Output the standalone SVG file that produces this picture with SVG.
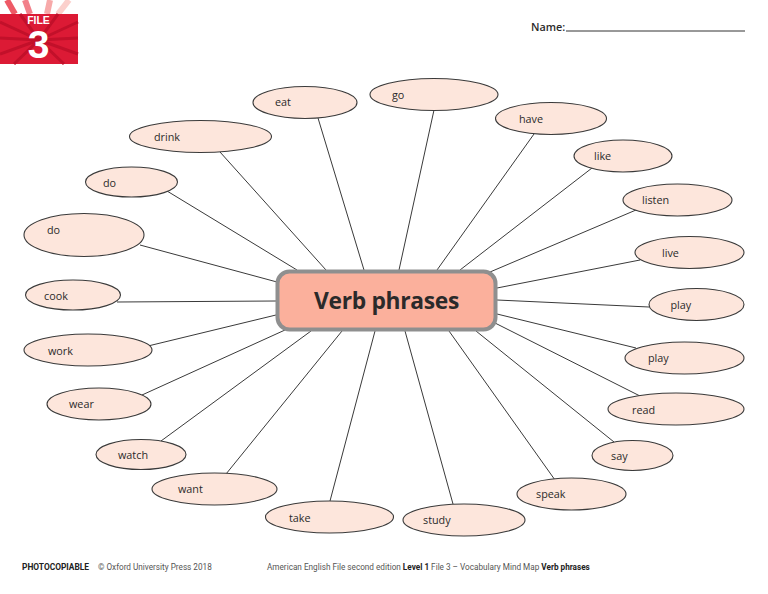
<svg xmlns="http://www.w3.org/2000/svg" width="768" height="594" viewBox="0 0 768 594">
<style>
text{font-family:"Open Sans","Noto Sans","Liberation Sans",sans-serif;fill:#2b2a2a}
.n ellipse{fill:#fde6dc;stroke:#3a3a3a;stroke-width:1.1}
.n text{font-size:10.800px}
#connectors line{stroke:#3a3a3a;stroke-width:1}
.f{font-size:8.200px;fill:#555;font-family:"Roboto","Liberation Sans",sans-serif}
.f tspan.b{font-weight:700;fill:#222}
.ray{stroke-width:6}
</style>
<rect width="768" height="594" fill="#fff"/>
<g id="badge">
<g fill="none" class="ray">
<line x1="7" y1="0" x2="15" y2="14" stroke="#ee5a66"/>
<line x1="25" y1="0" x2="30" y2="14" stroke="#f2808a"/>
<line x1="47" y1="14" x2="50" y2="0" stroke="#f7a9a9"/>
<line x1="58" y1="14" x2="69" y2="0" stroke="#fbd0cc"/>
</g>
<rect x="0" y="14" width="78" height="50" fill="#dc1a35"/>
<g stroke="#c2102a" stroke-width="3">
<line x1="39" y1="40" x2="0" y2="22"/><line x1="39" y1="40" x2="0" y2="38"/><line x1="39" y1="40" x2="0" y2="54"/>
<line x1="39" y1="40" x2="14" y2="64"/><line x1="39" y1="40" x2="64" y2="64"/>
<line x1="39" y1="40" x2="78" y2="22"/><line x1="39" y1="40" x2="78" y2="38"/><line x1="39" y1="40" x2="78" y2="54"/>
<line x1="39" y1="40" x2="20" y2="14"/><line x1="39" y1="40" x2="58" y2="14"/>
</g>
<text x="38.500" y="24" text-anchor="middle" style="font-family:'Liberation Sans',sans-serif;font-size:10.500px;font-weight:700;fill:#fff">FILE</text>
<text x="38.500" y="58" text-anchor="middle" style="font-family:'Liberation Sans',sans-serif;font-size:39px;font-weight:700;fill:#fff">3</text>
</g>
<g id="name">
<text x="531" y="30.500" style="font-size:10.800px;font-weight:600">Name:</text>
<line x1="566" y1="31" x2="745" y2="31" stroke="#333" stroke-width="1"/>
</g>
<g id="connectors">
<line x1="318" y1="118" x2="364" y2="270"/>
<line x1="434" y1="110" x2="399" y2="270"/>
<line x1="534" y1="134" x2="437" y2="270"/>
<line x1="592" y1="168" x2="460" y2="270"/>
<line x1="636" y1="210" x2="490" y2="272"/>
<line x1="640" y1="260" x2="497" y2="288"/>
<line x1="649" y1="307" x2="497" y2="300"/>
<line x1="636" y1="348" x2="497" y2="314"/>
<line x1="640" y1="396" x2="495" y2="323"/>
<line x1="614" y1="442" x2="476" y2="331"/>
<line x1="555" y1="480" x2="449" y2="331"/>
<line x1="453" y1="504" x2="405" y2="331"/>
<line x1="330" y1="501" x2="375" y2="331"/>
<line x1="226" y1="474" x2="342" y2="331"/>
<line x1="161" y1="441" x2="311" y2="331"/>
<line x1="142" y1="395" x2="285" y2="330"/>
<line x1="148" y1="346" x2="276" y2="315"/>
<line x1="117" y1="302" x2="276" y2="301"/>
<line x1="140" y1="245" x2="277" y2="282"/>
<line x1="167" y1="191" x2="297" y2="270"/>
<line x1="220" y1="152" x2="326" y2="270"/>
</g>
<g id="center">
<rect x="277.500" y="271.500" width="218" height="58" rx="12" fill="#fbb09c" stroke="#8f8f8f" stroke-width="4"/>
<text x="386.500" y="309" text-anchor="middle" style="font-size:22.800px;font-weight:700;letter-spacing:-.3px">Verb phrases</text>
</g>
<g class="n" id="n-eat"><ellipse cx="305" cy="102.500" rx="52" ry="16"/><text x="275" y="106">eat</text></g>
<g class="n" id="n-go"><ellipse cx="434" cy="94.500" rx="64" ry="16"/><text x="392" y="98.500">go</text></g>
<g class="n" id="n-have"><ellipse cx="551" cy="118.500" rx="55.500" ry="16"/><text x="519" y="122.500">have</text></g>
<g class="n" id="n-like"><ellipse cx="623" cy="156" rx="49" ry="16"/><text x="594" y="160">like</text></g>
<g class="n" id="n-listen"><ellipse cx="677.500" cy="200" rx="54.500" ry="16"/><text x="642" y="203.500">listen</text></g>
<g class="n" id="n-live"><ellipse cx="689.500" cy="252.500" rx="54.500" ry="16"/><text x="662" y="256.500">live</text></g>
<g class="n" id="n-play1"><ellipse cx="696.500" cy="304.500" rx="47.500" ry="16"/><text x="670.500" y="308.500">play</text></g>
<g class="n" id="n-play2"><ellipse cx="684.500" cy="358" rx="59.500" ry="16"/><text x="648" y="362">play</text></g>
<g class="n" id="n-read"><ellipse cx="676" cy="409" rx="68" ry="16"/><text x="632" y="413.500">read</text></g>
<g class="n" id="n-say"><ellipse cx="632.500" cy="455.500" rx="40.500" ry="15"/><text x="611" y="459.500">say</text></g>
<g class="n" id="n-speak"><ellipse cx="571.500" cy="494" rx="54.500" ry="16"/><text x="536" y="498">speak</text></g>
<g class="n" id="n-study"><ellipse cx="464" cy="520" rx="61" ry="16"/><text x="423" y="523.500">study</text></g>
<g class="n" id="n-take"><ellipse cx="329.500" cy="517" rx="64" ry="16"/><text x="289" y="521.500">take</text></g>
<g class="n" id="n-want"><ellipse cx="214.500" cy="489" rx="62.500" ry="16"/><text x="178" y="493">want</text></g>
<g class="n" id="n-watch"><ellipse cx="141" cy="454.500" rx="45" ry="15"/><text x="118" y="458.500">watch</text></g>
<g class="n" id="n-wear"><ellipse cx="99" cy="404" rx="52" ry="16"/><text x="69" y="408">wear</text></g>
<g class="n" id="n-work"><ellipse cx="88" cy="350" rx="64" ry="16"/><text x="48" y="354.500">work</text></g>
<g class="n" id="n-cook"><ellipse cx="73" cy="295" rx="47.500" ry="15"/><text x="44" y="299.500">cook</text></g>
<g class="n" id="n-do1"><ellipse cx="84" cy="235" rx="60" ry="21.500"/><text x="47" y="233.500">do</text></g>
<g class="n" id="n-do2"><ellipse cx="131.500" cy="182" rx="46" ry="15"/><text x="103" y="186.500">do</text></g>
<g class="n" id="n-drink"><ellipse cx="200.500" cy="136.500" rx="71" ry="16"/><text x="154" y="140.500">drink</text></g>
<g id="footer">
<text class="f" x="22" y="570"><tspan class="b" style="font-size:8.400px">PHOTOCOPIABLE</tspan><tspan x="98">© Oxford University Press 2018</tspan></text>
<text class="f" x="267" y="570">American English File second edition <tspan class="b">Level 1</tspan>  File 3 – Vocabulary Mind Map <tspan class="b">Verb phrases</tspan></text>
</g>
</svg>
